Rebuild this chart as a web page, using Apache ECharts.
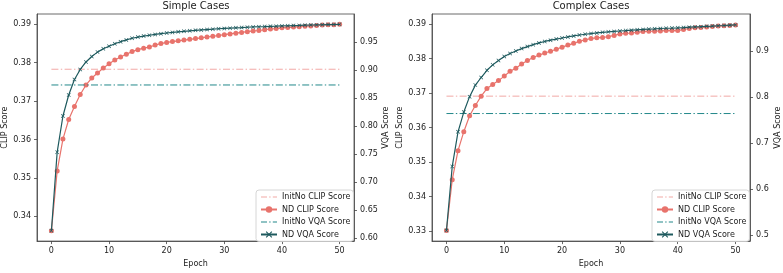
<!DOCTYPE html>
<html>
<head>
<meta charset="utf-8">
<script src="https://cdn.jsdelivr.net/npm/echarts@6/dist/echarts.min.js"></script>
<style>
html,body{margin:0;padding:0;background:#fff;}
#chart{width:783px;height:273px;}
</style>
</head>
<body>
<div id="chart"></div>
<script>
const epochs = [0,1,2,3,4,5,6,7,8,9,10,11,12,13,14,15,16,17,18,19,20,21,22,23,24,25,26,27,28,29,30,31,32,33,34,35,36,37,38,39,40,41,42,43,44,45,46,47,48,49,50];

const simpleNdClip = [0.3362,0.3518,0.3601,0.3652,0.3686,0.3717,0.3742,0.3760,0.3773,0.3786,0.3797,0.3807,0.3815,0.3822,0.3829,0.3834,0.3838,0.3841,0.3846,0.3850,0.3853,0.3855,0.3857,0.3859,0.3861,0.3863,0.3865,0.3867,0.3869,0.3871,0.3873,0.3875,0.3877,0.3879,0.3881,0.3883,0.3884,0.3886,0.3888,0.3889,0.3891,0.3892,0.3893,0.3894,0.3895,0.3896,0.3897,0.3898,0.3899,0.3899,0.3900];
const simpleNdVqa = [0.6131,0.7532,0.8177,0.8551,0.8827,0.9007,0.9140,0.9237,0.9316,0.9375,0.9422,0.9466,0.9502,0.9534,0.9564,0.9585,0.9602,0.9617,0.9631,0.9645,0.9657,0.9668,0.9678,0.9687,0.9696,0.9705,0.9712,0.9719,0.9726,0.9733,0.9739,0.9744,0.9749,0.9754,0.9760,0.9765,0.9769,0.9772,0.9776,0.9779,0.9783,0.9786,0.9790,0.9793,0.9797,0.9800,0.9802,0.9804,0.9807,0.9809,0.9811];
const simpleInitNoClip = 0.3783;
const simpleInitNoVqa = 0.873;

const complexNdClip = [0.3302,0.3449,0.3533,0.3588,0.3634,0.3664,0.3691,0.3713,0.3725,0.3736,0.3749,0.3763,0.3772,0.3784,0.3794,0.3803,0.3810,0.3816,0.3821,0.3827,0.3833,0.3839,0.3844,0.3850,0.3854,0.3858,0.3860,0.3861,0.3863,0.3867,0.3871,0.3873,0.3874,0.3876,0.3878,0.3879,0.3879,0.3880,0.3881,0.3881,0.3881,0.3884,0.3887,0.3889,0.3890,0.3891,0.3893,0.3894,0.3895,0.3896,0.3897];
const complexNdVqa = [0.5095,0.6492,0.7245,0.7675,0.8011,0.8262,0.8428,0.8585,0.8703,0.8800,0.8886,0.8951,0.9004,0.9058,0.9101,0.9144,0.9181,0.9213,0.9241,0.9265,0.9288,0.9312,0.9333,0.9353,0.9370,0.9385,0.9398,0.9411,0.9422,0.9432,0.9441,0.9449,0.9458,0.9467,0.9475,0.9482,0.9488,0.9495,0.9501,0.9505,0.9510,0.9516,0.9523,0.9529,0.9535,0.9542,0.9548,0.9555,0.9561,0.9568,0.9574];
const complexInitNoClip = 0.3691;
const complexInitNoVqa = 0.7643;

const xTicks = [0,10,20,30,40,50];
const simpleClipTicks = [0.34,0.35,0.36,0.37,0.38,0.39];
const simpleVqaTicks = [0.60,0.65,0.70,0.75,0.80,0.85,0.90,0.95];
const complexClipTicks = [0.33,0.34,0.35,0.36,0.37,0.38,0.39];
const complexVqaTicks = [0.5,0.6,0.7,0.8,0.9];

const seriesNames = ['InitNo CLIP Score','ND CLIP Score','InitNo VQA Score','ND VQA Score'];
const titles = ['Simple Cases','Complex Cases'];

const C_ND_CLIP = '#E8736C';
const C_INIT_CLIP = '#F2A9A6';
const C_INIT_VQA = '#23888A';
const C_ND_VQA = '#1E5A5E';
const FONT = 'DejaVu Sans';
const TXT = '#222';
const AX = '#444';
const XSYM = 'path://M0,1.2L1.2,0L5,3.8L8.8,0L10,1.2L6.2,5L10,8.8L8.8,10L5,6.2L1.2,10L0,8.8L3.8,5Z';
const DASHDOT = [7,2.4,1.4,2.4];
const DASHDOT_ICON = 'path://M0,0H6V1.1H0Z M8.2,0H9.6V1.1H8.2Z M11.8,0H16V1.1H11.8Z';

const pairs = (xs, ys) => xs.map((x,i) => [x, ys[i]]);
const flat = (v) => [[epochs[0], v],[epochs[epochs.length-1], v]];

const grids = [
  {left:37, top:14, width:317, height:230},
  {left:432, top:14, width:318, height:230}
];

function xAxis(gi){
  return {
    type:'value', gridIndex:gi, min:-2.5, max:52.5,
    name:'Epoch', nameLocation:'middle', nameGap:16,
    nameTextStyle:{fontFamily:FONT,fontSize:8,color:TXT},
    axisLine:{show:true, onZero:false, lineStyle:{color:AX,width:0.8}},
    splitLine:{show:false},
    axisTick:{show:true, length:3, inside:false, customValues:xTicks, lineStyle:{color:AX,width:0.8}},
    axisLabel:{margin:6, fontFamily:FONT, fontSize:8, color:TXT, customValues:xTicks, formatter:(v)=>String(Math.round(v))}
  };
}
function yAxis(gi, pos, min, max, ticks, dec, name, gap){
  return {
    type:'value', gridIndex:gi, position:pos, min:min, max:max,
    name:name, nameLocation:'middle', nameGap:gap, nameRotate:90,
    nameTextStyle:{fontFamily:FONT,fontSize:8,color:TXT},
    axisLine:{show:true, onZero:false, lineStyle:{color:AX,width:0.8}},
    splitLine:{show:false},
    axisTick:{show:true, length:3, inside:false, customValues:ticks, lineStyle:{color:AX,width:0.8}},
    axisLabel:{margin:6, fontFamily:FONT, fontSize:8, color:TXT, customValues:ticks, formatter:(v)=>v.toFixed(dec)}
  };
}

function seriesFor(gi, ndClip, ndVqa, initClip, initVqa){
  const xi = gi, yc = gi*2, yv = gi*2+1;
  return [
    {name:seriesNames[0], type:'line', xAxisIndex:xi, yAxisIndex:yc, data:flat(initClip), symbol:'none',
     lineStyle:{color:C_INIT_CLIP, width:1, type:DASHDOT}, itemStyle:{color:C_INIT_CLIP}, z:2},
    {name:seriesNames[1], type:'line', xAxisIndex:xi, yAxisIndex:yc, data:pairs(epochs, ndClip), symbol:'circle', symbolSize:5,
     lineStyle:{color:C_ND_CLIP, width:1.2}, itemStyle:{color:C_ND_CLIP, borderWidth:0}, z:3},
    {name:seriesNames[2], type:'line', xAxisIndex:xi, yAxisIndex:yv, data:flat(initVqa), symbol:'none',
     lineStyle:{color:C_INIT_VQA, width:1, type:DASHDOT}, itemStyle:{color:C_INIT_VQA}, z:4},
    {name:seriesNames[3], type:'line', xAxisIndex:xi, yAxisIndex:yv, data:pairs(epochs, ndVqa), symbol:XSYM, symbolSize:4,
     lineStyle:{color:C_ND_VQA, width:1.2}, itemStyle:{color:C_ND_VQA, borderWidth:0}, z:5}
  ];
}

function legend(left){
  return {
    data:[
      {name:seriesNames[0], icon:DASHDOT_ICON},
      {name:seriesNames[1]},
      {name:seriesNames[2], icon:DASHDOT_ICON},
      {name:seriesNames[3]}
    ],
    orient:'vertical', left:left, top:190,
    itemWidth:16, itemHeight:8, itemGap:4.5,
    symbolKeepAspect:true,
    padding:[3,3,3,4],
    backgroundColor:'rgba(255,255,255,0.85)', borderColor:'#cccccc', borderWidth:0.8, borderRadius:3,
    textStyle:{fontFamily:FONT, fontSize:8, color:TXT},
    selectedMode:false
  };
}

const chart = echarts.init(document.getElementById('chart'), null, {renderer:'canvas'});
chart.setOption({
  animation:false,
  backgroundColor:'#ffffff',
  title:[
    {text:titles[0], left:196, top:1, textAlign:'center', padding:0, textStyle:{fontFamily:FONT,fontSize:10,fontWeight:'normal',color:TXT}},
    {text:titles[1], left:591, top:1, textAlign:'center', padding:0, textStyle:{fontFamily:FONT,fontSize:10,fontWeight:'normal',color:TXT}}
  ],
  grid:grids.map(g => Object.assign({show:true, borderColor:AX, borderWidth:0.8, backgroundColor:'#fff'}, g)),
  xAxis:[xAxis(0), xAxis(1)],
  yAxis:[
    yAxis(0,'left',0.3335,0.3927,simpleClipTicks,2,'CLIP Score',22),
    yAxis(0,'right',0.5945,0.9996,simpleVqaTicks,2,'VQA Score',28),
    yAxis(1,'left',0.3271,0.3929,complexClipTicks,2,'CLIP Score',21),
    yAxis(1,'right',0.4865,0.9811,complexVqaTicks,1,'VQA Score',24)
  ],
  legend:[legend(256), legend(652)],
  series:[].concat(
    seriesFor(0, simpleNdClip, simpleNdVqa, simpleInitNoClip, simpleInitNoVqa),
    seriesFor(1, complexNdClip, complexNdVqa, complexInitNoClip, complexInitNoVqa)
  )
});
</script>
</body>
</html>
